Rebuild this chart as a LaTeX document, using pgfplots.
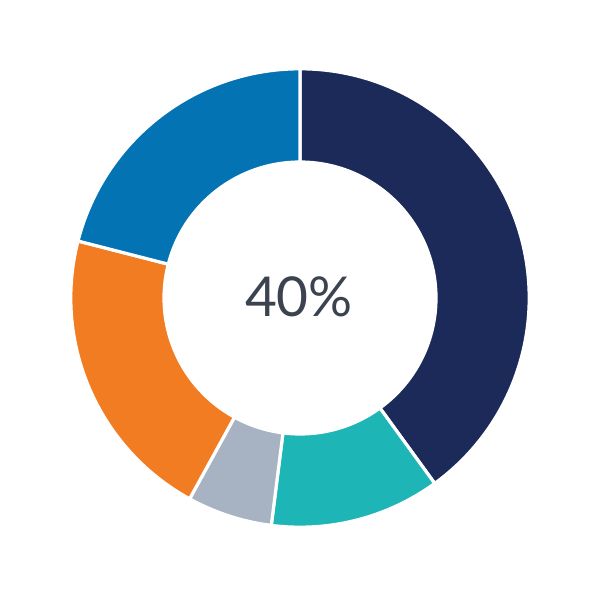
\documentclass[border=0pt]{standalone}
\usepackage{pgfplots}
\usepackage{pgfplotstable}
\usepackage{fontspec}
\setmainfont{Lato}
\pgfplotsset{compat=1.18}

\definecolor{cnavy}{HTML}{1B2A59}
\definecolor{cteal}{HTML}{1DB5B6}
\definecolor{cgray}{HTML}{A7B2C2}
\definecolor{corange}{HTML}{F27C21}
\definecolor{cblue}{HTML}{0473B4}
\definecolor{ctext}{HTML}{3C4350}

% share in percent, clockwise from 12 o'clock
\pgfplotstableread{
label share colour
A 40 cnavy
B 12 cteal
C 6 cgray
D 21 corange
E 21 cblue
}\donut

\begin{document}
\begin{tikzpicture}
\begin{axis}[
    scale only axis,
    width=300pt, height=300pt,
    xmin=-300, xmax=300,
    ymin=-302, ymax=298,
    hide axis,
    clip=false
]
\path (rel axis cs:0,0) rectangle (rel axis cs:1,1);
\pgfplotstablegetrowsof{\donut}
\pgfmathtruncatemacro{\nrows}{\pgfplotsretval-1}
\def\cum{0}
\pgfplotsforeachungrouped \i in {0,...,\nrows}{
    \pgfplotstablegetelem{\i}{share}\of\donut
    \let\sh=\pgfplotsretval
    \pgfplotstablegetelem{\i}{colour}\of\donut
    \let\col=\pgfplotsretval
    \pgfmathsetmacro{\a}{90-3.6*\cum}
    \pgfmathsetmacro{\b}{90-3.6*(\cum+\sh)}
    \pgfmathsetmacro{\cum}{\cum+\sh}
    \edef\cmd{\noexpand\fill[\col, draw=white, line width=1.6pt, line join=miter]
        ([shift={(\a:114.6pt)}]axis cs:0,0)
        arc[start angle=\a, end angle=\b, radius=114.6pt]
        -- ([shift={(\b:68pt)}]axis cs:0,0)
        arc[start angle=\b, end angle=\a, radius=68pt] -- cycle;}
    \cmd
}
\node[text=ctext, font=\fontsize{27.5}{32}\selectfont] at (axis cs:-1,1) {40\%};
\end{axis}
\end{tikzpicture}
\end{document}
